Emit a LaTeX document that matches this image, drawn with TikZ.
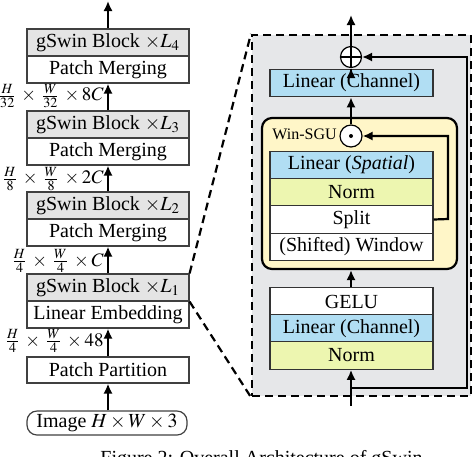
\documentclass[tikz,border=0pt]{standalone}
\usepackage{mathptmx}
\usepackage{fontspec}
\setmainfont{Liberation Serif}
\usetikzlibrary{arrows.meta}
\definecolor{lgray}{HTML}{E4E4E4}
\definecolor{pgray}{HTML}{E6E7E9}
\definecolor{pblue}{HTML}{B1DEF3}
\definecolor{pgreen}{HTML}{EDF6B0}
\definecolor{pyellow}{HTML}{FFF6C8}
\tikzset{
  lbox/.style={draw=black!75, line width=0.6pt, minimum width=81pt, minimum height=13.5pt, inner sep=0pt, font=\fontsize{10}{12}\selectfont},
  rbox/.style={draw=black!80, line width=0.6pt, minimum width=81.5pt, minimum height=13.75pt, inner sep=0pt, font=\fontsize{10}{12}\selectfont},
  arr/.style={line width=1.1pt, -{Latex[length=5pt,width=4.6pt]}},
  conn/.style={line width=1.1pt},
  dimlab/.style={anchor=east, inner sep=0pt, font=\fontsize{9.5}{11}\selectfont},
  opcirc/.style={circle, draw, fill=white, line width=0.6pt, minimum size=11pt, inner sep=0pt}
}
\begin{document}
\begin{tikzpicture}[x=0.5pt,y=-0.5pt]
\useasboundingbox (0,0) rectangle (474,456);
% ---------- left column ----------
\node[lbox, fill=lgray] (g4) at (108,42.5) {gSwin Block $\times L_4$};
\node[lbox, fill=white] (m4) at (108,69.5) {Patch Merging};
\node[lbox, fill=lgray] (g3) at (108,124.5) {gSwin Block $\times L_3$};
\node[lbox, fill=white] (m3) at (108,151.5) {Patch Merging};
\node[lbox, fill=lgray] (g2) at (108,205.5) {gSwin Block $\times L_2$};
\node[lbox, fill=white] (m2) at (108,232.5) {Patch Merging};
\node[lbox, fill=lgray] (g1) at (108,287.5) {gSwin Block $\times L_1$};
\node[lbox, fill=white] (le) at (108,314.5) {Linear Embedding};
\node[lbox, fill=white, minimum height=13pt] (pp) at (108,370) {Patch Partition};
\node[lbox, fill=white, rounded corners=5pt, minimum width=80pt, minimum height=12pt] (img) at (107,423) {Image $H\times W\times 3$};
\coordinate (out) at (108,1);
\draw[arr] (g4.north) -- (out);
\draw[arr] (g3.north) -- (m4.south);
\draw[arr] (g2.north) -- (m3.south);
\draw[arr] (g1.north) -- (m2.south);
\draw[arr] (pp.north) -- (le.south);
\draw[arr] (img.north -| pp.north) -- (pp.south);
\node[dimlab] (d4) at (104,96) {$\frac{H}{32}\,\times\,\frac{W}{32}\,\times 8C$};
\node[dimlab] (d3) at (104,179) {$\frac{H}{8}\,\times\,\frac{W}{8}\,\times 2C$};
\node[dimlab] (d2) at (104,261) {$\frac{H}{4}\,\times\,\frac{W}{4}\,\times C$};
\node[dimlab] (d1) at (104,341) {$\frac{H}{4}\,\times\,\frac{W}{4}\,\times 48$};
% ---------- right panel ----------
\node[draw, dashed, line width=1.1pt, fill=pgray, minimum width=109.5pt, minimum height=180.5pt, inner sep=0pt, dash pattern=on 4pt off 2.5pt] (panel) at (361.5,215.5) {};
\draw[conn, dashed, dash pattern=on 4pt off 2.5pt] (g1.north east) -- (panel.north west);
\draw[conn, dashed, dash pattern=on 4pt off 2.5pt] (g1.south east) -- (panel.south west);
\node[opcirc, minimum size=10.5pt] (plus) at (351,57) {};
\draw[line width=0.6pt] (plus.north) -- (plus.south) (plus.west) -- (plus.east);
\node[rbox, fill=pblue] (lc) at (351.5,83) {Linear (Channel)};
\node[draw, line width=1.1pt, rounded corners=5pt, fill=pyellow, minimum width=97.5pt, minimum height=75.5pt, inner sep=0pt] (sgu) at (359.5,193.5) {};
\node[opcirc] (odot) at (351,136) {};
\fill (odot.center) circle (1pt);
\node[anchor=east, inner sep=0pt, font=\fontsize{8}{9}\selectfont] (sgulab) at (337,134) {Win-SGU};
\node[rbox, fill=pblue] (ls) at (351.5,165) {Linear (\textit{Spatial})};
\node[rbox, fill=pgreen] (n2) at (351.5,192.5) {Norm};
\node[rbox, fill=white] (sp) at (351.5,219.5) {Split};
\node[rbox, fill=white] (win) at (351.5,247) {(Shifted) Window};
\node[rbox, fill=white] (gelu) at (351.5,301.5) {GELU};
\node[rbox, fill=pblue] (lc2) at (351.5,328.5) {Linear (Channel)};
\node[rbox, fill=pgreen] (n1) at (351.5,355.5) {Norm};
\coordinate (in) at (351,406);
\coordinate (top) at (351,15);
\coordinate (rc) at (351,388);
\coordinate (rr) at (467,388);
\coordinate (lr) at (448,219);
\draw[arr] (in) -- (n1.south -| in);
\draw[arr] (gelu.north -| in) -- (sgu.south -| in);
\draw[arr] (odot.north) -- (lc.south -| odot);
\draw[arr] (lc.north -| plus) -- (plus.south);
\draw[arr] (plus.north) -- (top);
\draw[arr] (rc) -- (rr) |- (plus.east);
\draw[arr] (sp.east) -- (lr) |- (odot.east);
% ---------- caption (cut by the frame) ----------
\node[anchor=north west, inner sep=0pt, font=\fontsize{10}{12}\selectfont] (cap) at (100,450) {Figure 2: Overall Architecture of gSwin.};
\end{tikzpicture}
\end{document}
